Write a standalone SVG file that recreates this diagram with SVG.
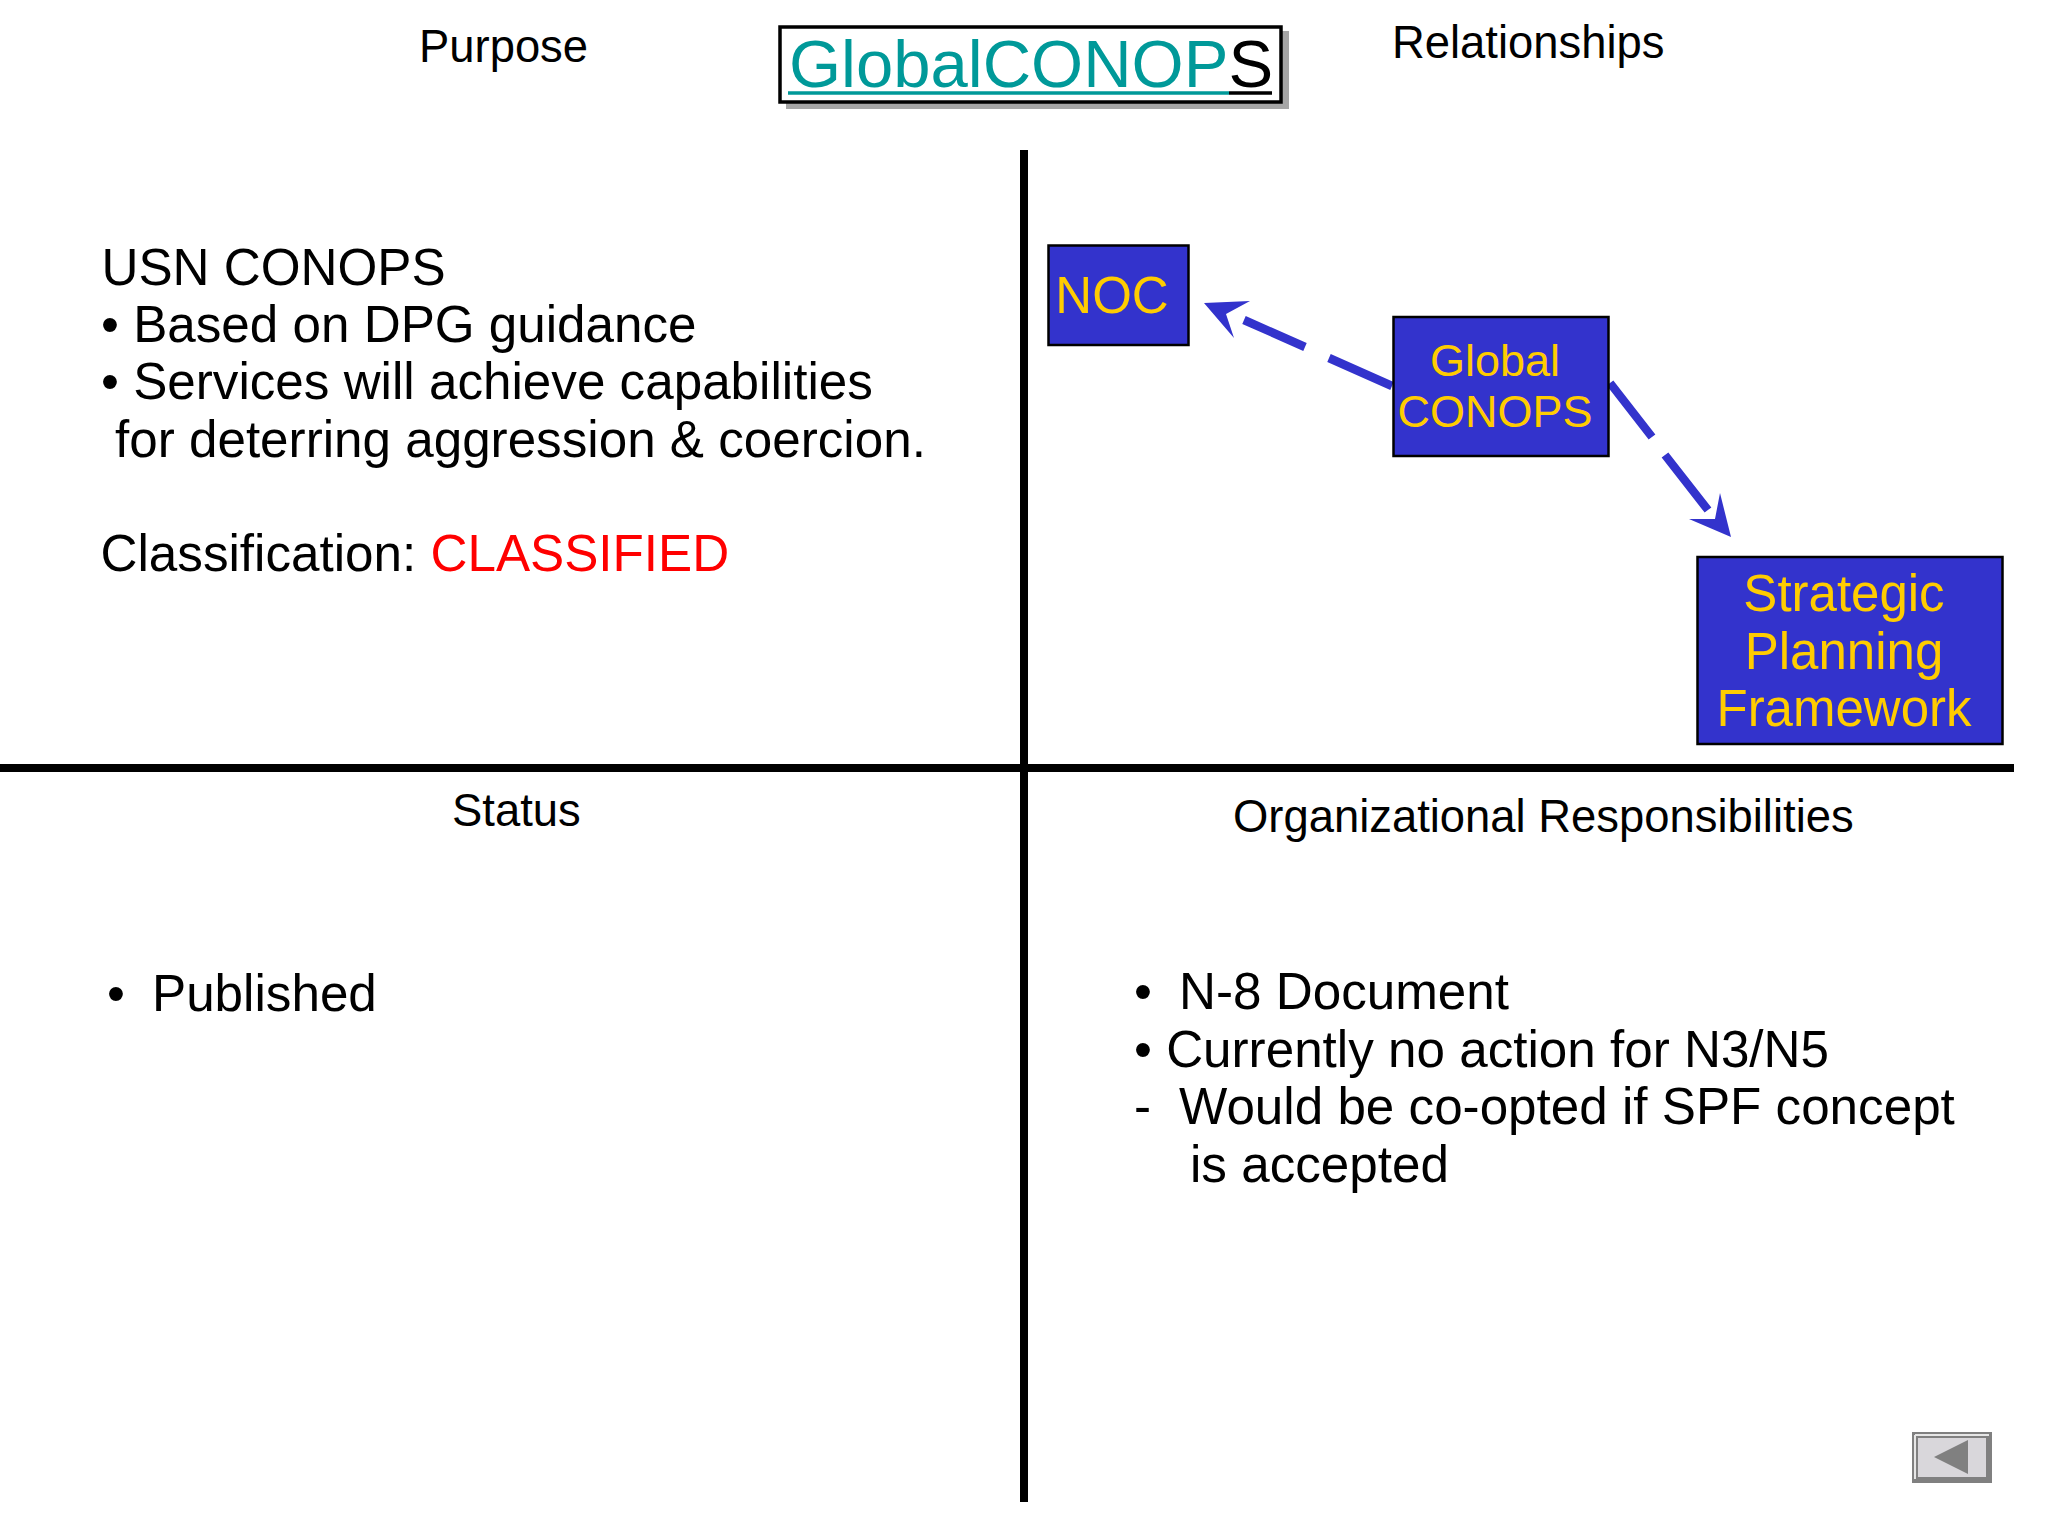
<svg xmlns="http://www.w3.org/2000/svg" width="2048" height="1536" viewBox="0 0 2048 1536">
<style>
text{font-family:"Liberation Sans",Arial,sans-serif;fill:#000}
.h{font-size:45.4px}
.b{font-size:51.2px}
.n{fill:#3333CC;stroke:#000;stroke-width:2.5}
.y{fill:#FFCC00;text-anchor:middle}
.c{fill:none;stroke:#3333CC;stroke-width:8.5;stroke-linecap:butt}
.a{fill:#3333CC}
</style>
<rect width="2048" height="1536" fill="#fff"/>
<g id="quadrant-lines" stroke="#000" stroke-width="8">
<line x1="1024" y1="150" x2="1024" y2="1502"/>
<line x1="0" y1="768" x2="2014" y2="768"/>
</g>
<g id="headings">
<text class="h" x="419" y="62">Purpose</text>
<text class="h" x="1392" y="58">Relationships</text>
<text class="h" x="452" y="826">Status</text>
<text class="h" x="1233" y="832">Organizational Responsibilities</text>
</g>
<g id="title">
<rect x="786" y="31" width="503" height="78" fill="#A6A6A6"/>
<rect x="780" y="27" width="501" height="75" fill="#fff" stroke="#000" stroke-width="3.5"/>
<text x="789" y="87" font-size="67"><tspan style="fill:#009999">GlobalCONOP</tspan><tspan>S</tspan></text>
<line x1="788" y1="93" x2="1229" y2="93" stroke="#009999" stroke-width="3.5"/>
<line x1="1229" y1="93" x2="1272" y2="93" stroke="#000" stroke-width="3.5"/>
</g>
<g id="purpose-text">
<text class="b" x="101.5" y="285">USN CONOPS</text>
<text class="b" x="101" y="342">• Based on DPG guidance</text>
<text class="b" x="101" y="399">• Services will achieve capabilities</text>
<text class="b" x="115" y="457">for deterring aggression &amp; coercion.</text>
<text class="b" x="100.5" y="571">Classification: <tspan style="fill:#FF0000">CLASSIFIED</tspan></text>
</g>
<g id="status-text">
<text class="b" x="107" y="1011">•</text>
<text class="b" x="152" y="1011">Published</text>
</g>
<g id="responsibilities-text">
<text class="b" x="1134" y="1009">•</text>
<text class="b" x="1179" y="1009">N-8 Document</text>
<text class="b" x="1134" y="1067">• Currently no action for N3/N5</text>
<text class="b" x="1134" y="1124">-</text>
<text class="b" x="1179" y="1124">Would be co-opted if SPF concept</text>
<text class="b" x="1190" y="1182">is accepted</text>
</g>
<g id="connectors">
<path class="c" d="M1392 386L1329 358M1305 347L1244 320"/>
<polygon class="a" points="1204,303 1250,301 1226,314 1234,338"/>
<path class="c" d="M1610 383L1652 437M1665 455L1708 510"/>
<polygon class="a" points="1731,537 1720,493 1715,519 1689,519"/>
</g>
<g id="node-noc">
<rect class="n" x="1048.5" y="245.5" width="140" height="99.5"/>
<text class="y" x="1112" y="313" font-size="51">NOC</text>
</g>
<g id="node-global-conops">
<rect class="n" x="1393.5" y="317" width="215" height="139"/>
<text class="y" x="1495" y="376" font-size="45">Global</text>
<text class="y" x="1495" y="427" font-size="45">CONOPS</text>
</g>
<g id="node-spf">
<rect class="n" x="1697.5" y="557" width="305" height="187"/>
<text class="y" x="1844" y="611" font-size="51">Strategic</text>
<text class="y" x="1844" y="669" font-size="51">Planning</text>
<text class="y" x="1844" y="726" font-size="51">Framework</text>
</g>
<g id="back-button">
<rect x="1912" y="1432" width="80" height="51" fill="#808080"/>
<path d="M1915 1435H1989M1915 1435V1479" fill="none" stroke="#E6E6E6" stroke-width="2"/>
<rect x="1918" y="1438" width="68" height="39" fill="#D9D7DB"/>
<polygon points="1934,1457 1968,1440 1968,1474" fill="#808080"/>
</g>
</svg>
